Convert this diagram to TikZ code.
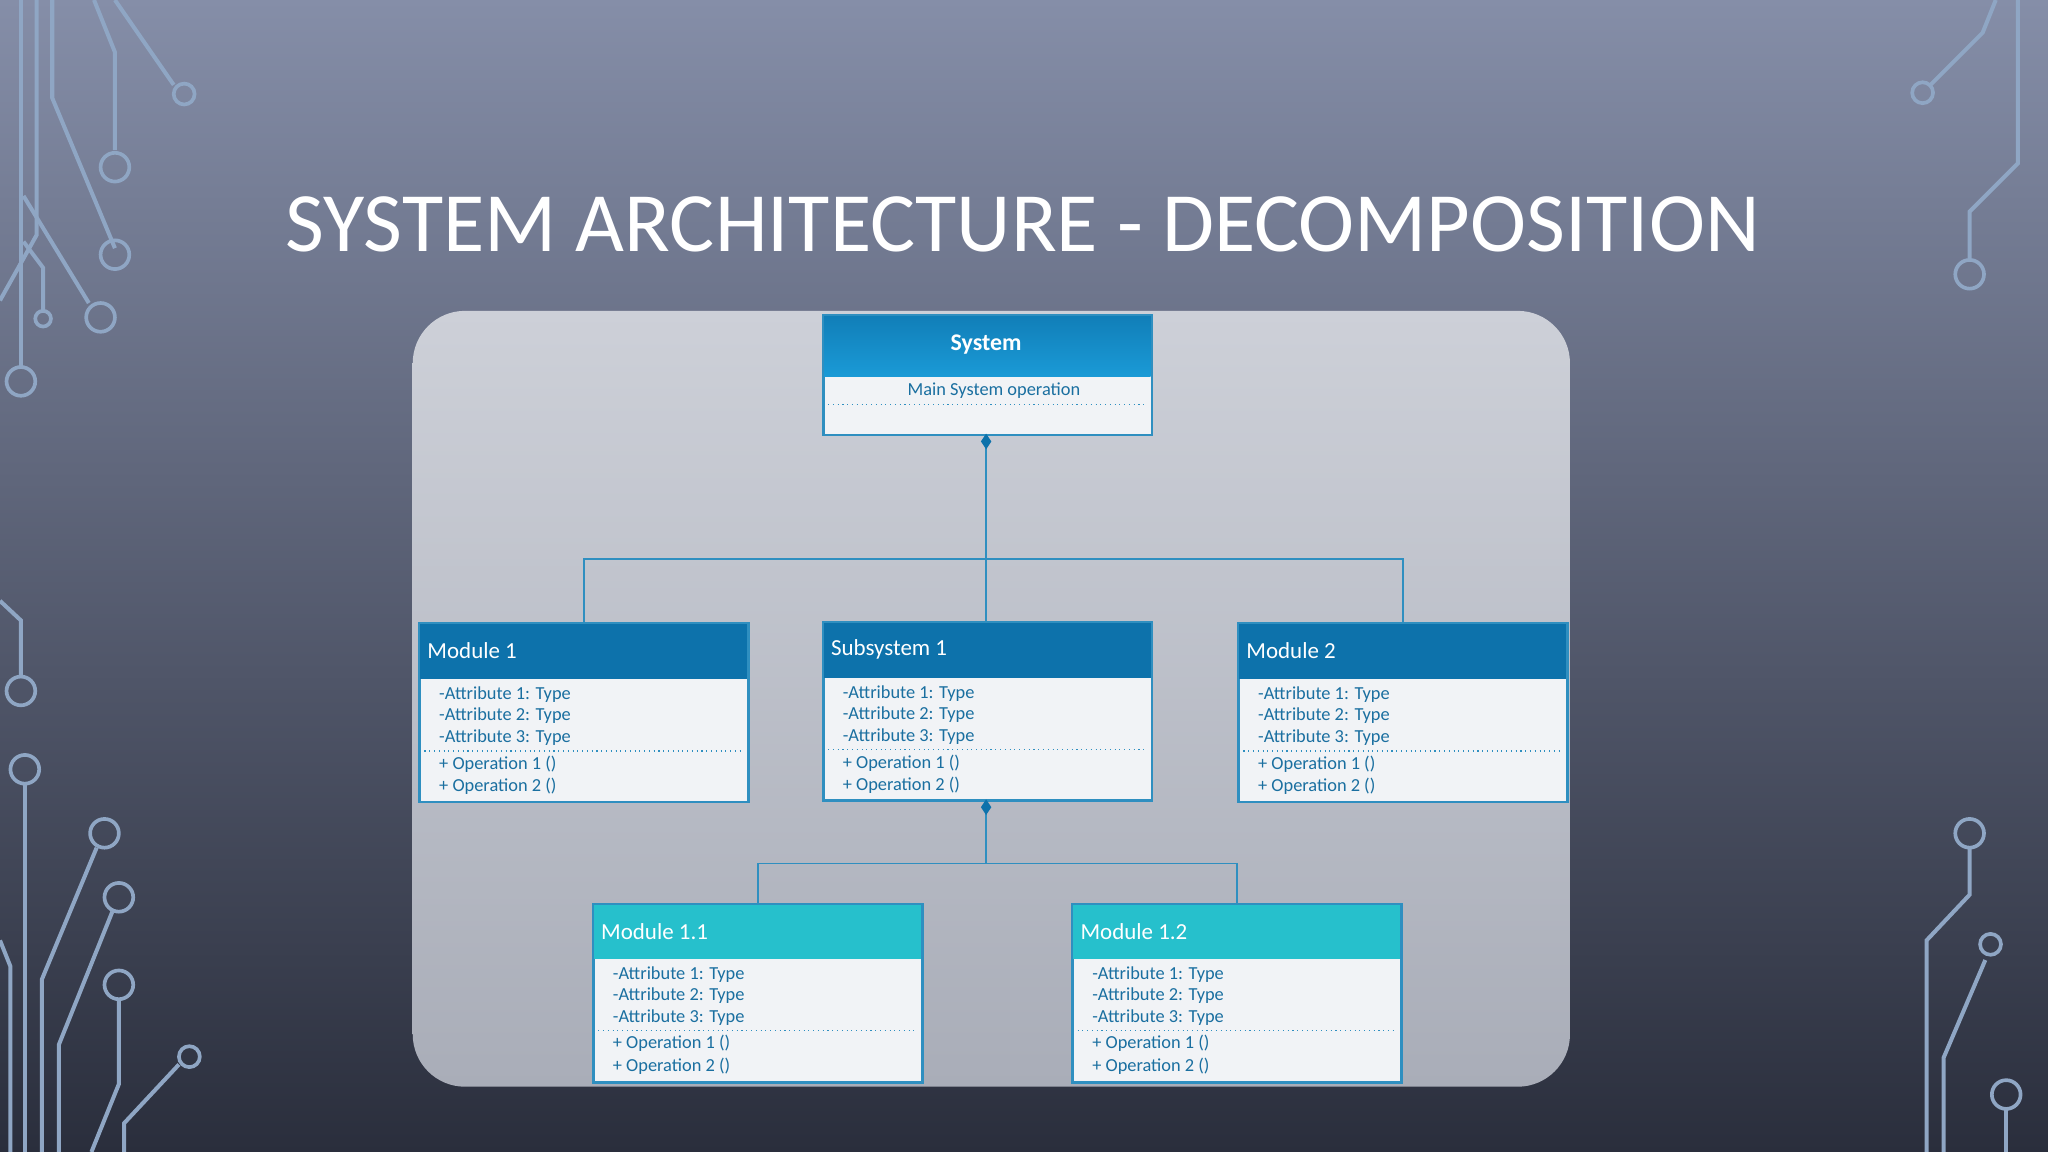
\documentclass[tikz,border=0pt]{standalone}
\usepackage{fontspec}
\setmainfont{Carlito}
\usetikzlibrary{calc}
\definecolor{bgtop}{HTML}{858EA8}
\definecolor{bgbot}{HTML}{2A2E3C}
\definecolor{circ}{HTML}{8FA6C4}
\definecolor{ptop}{HTML}{CDD0D8}
\definecolor{pbot}{HTML}{A9ADB8}
\definecolor{hblue}{HTML}{1A9AD6}
\definecolor{hdark}{HTML}{0D72AB}
\definecolor{hcyan}{HTML}{26C0CC}
\definecolor{lblue}{HTML}{2F8FC0}
\definecolor{ttext}{HTML}{1A6FA0}
\definecolor{bodyc}{HTML}{F1F3F6}
\tikzset{
 x=0.025cm,y=-0.025cm,
 umlbox/.style={draw=lblue,line width=1pt,fill=bodyc,minimum width=251*0.025cm,inner sep=0,anchor=north west},
 conn/.style={draw=lblue,line width=0.8pt},
 ctrace/.style={draw=circ,line width=2.2pt},
 cdot/.style={draw=circ,line width=2pt},
 attr/.style={anchor=west,font=\fontsize{10}{12}\selectfont,text=ttext,inner sep=0},
 htext/.style={anchor=west,font=\fontsize{12.5}{14}\selectfont,text=white,inner sep=0},
}
\newcommand{\umlcls}[7]{% name x y width hdrheight color title
 \node[umlbox,minimum height=136*0.025cm] (#1) at (#2,#3) {};
 \fill[#6] (#2,#3) rectangle ++(251,#5);
 \draw[lblue,line width=1pt] (#1.north west) rectangle (#1.south east);
 \node[htext] (#1t) at (#2+6,#3+#5/2) {#7};
 \node[attr] (#1a1) at (#2+15,#3+#5+12) {-Attribute 1: Type};
 \node[attr] (#1a2) at (#2+15,#3+#5+28) {-Attribute 2: Type};
 \node[attr] (#1a3) at (#2+15,#3+#5+45) {-Attribute 3: Type};
 \draw[lblue,dotted,line width=0.6pt] (#2+4,#3+#5+55) -- (#2+247,#3+#5+55);
 \node[attr] (#1o1) at (#2+15,#3+#5+65) {+ Operation 1 ()};
 \node[attr] (#1o2) at (#2+15,#3+#5+82) {+ Operation 2 ()};
}
\begin{document}
\begin{tikzpicture}
\shade[top color=bgtop,bottom color=bgbot] (0,0) rectangle (1568,882);
\useasboundingbox (0,0) rectangle (1568,882);
% circuit traces left
\draw[ctrace] (16,0) -- (16,280);
\draw[ctrace] (28,0) -- (28,180) -- (0,230);
\draw[ctrace] (40,0) -- (40,75) -- (88,190);
\draw[ctrace] (72,0) -- (88,40) -- (88,115);
\draw[ctrace] (88,0) -- (133,65);
\draw[ctrace] (18,150) -- (68,232);
\draw[ctrace] (18,185) -- (33,205) -- (33,238);
\draw[cdot] (141,72) circle (8) (88,128) circle (11) (88,195) circle (11) (77,243) circle (11) (33,244) circle (6) (16,292) circle (11);
\draw[ctrace] (0,460) -- (16,475) -- (16,517);
\draw[cdot] (16,529) circle (11) (19,589) circle (11);
\draw[ctrace] (19,600) -- (19,882);
\draw[ctrace] (0,720) -- (8,740) -- (8,882);
\draw[ctrace] (74,649) -- (32,750) -- (32,882);
\draw[ctrace] (86,698) -- (45,800) -- (45,882);
\draw[ctrace] (91,765) -- (91,830) -- (70,882);
\draw[ctrace] (137,815) -- (95,860) -- (95,882);
\draw[cdot] (80,638) circle (11) (91,687) circle (11) (91,754) circle (11) (145,809) circle (8);
% right
\draw[ctrace] (1528,0) -- (1518,25) -- (1478,65);
\draw[ctrace] (1545,0) -- (1545,125) -- (1508,162) -- (1508,198);
\draw[cdot] (1472,71) circle (8) (1508,210) circle (11);
\draw[ctrace] (1508,650) -- (1508,685) -- (1475,720) -- (1475,882);
\draw[ctrace] (1520,735) -- (1488,810) -- (1488,882);
\draw[ctrace] (1536,850) -- (1536,882);
\draw[cdot] (1508,638) circle (11) (1524,723) circle (8) (1536,838) circle (11);
% title
\node[text=white,font=\fontsize{46}{50}\selectfont,inner sep=0] (title) at (783,172) {SYSTEM ARCHITECTURE - DECOMPOSITION};
% panel
\shade[top color=ptop,bottom color=pbot,rounded corners=40*0.025cm] (316,238) rectangle (1202,832);
% System box
\node[umlbox,minimum height=91*0.025cm] (sys) at (630,241) {};
\shade[top color=hdark!70!hblue,bottom color=hblue] (630,241) rectangle (881,288);
\draw[lblue,line width=1pt] (sys.north west) rectangle (sys.south east);
\node[text=white,font=\bfseries\fontsize{13}{15}\selectfont] (syst) at (755,264) {System};
\node[attr,anchor=center] (sysop) at (761,299) {Main System operation};
\draw[lblue,dotted,line width=0.6pt] (634,310) -- (877,310);
\umlcls{m1}{321}{477}{251}{43}{hdark}{Module 1}
\umlcls{sub}{630}{476}{251}{43}{hdark}{Subsystem 1}
\umlcls{m2}{948}{477}{251}{43}{hdark}{Module 2}
\umlcls{m11}{454}{692}{251}{42}{hcyan}{Module 1.1}
\umlcls{m12}{821}{692}{251}{42}{hcyan}{Module 1.2}
% connectors
\coordinate (j1) at (755,428);
\coordinate (j2) at (755,661);
\coordinate (s1) at (755,336);
\coordinate (s2) at (755,616);
\draw[conn] (s1) -- (j1) -- (j1 |- sub.north);
\draw[conn] (j1) -| (m1.north);
\draw[conn] (j1) -| (m2.north);
\fill[hdark] (755,332) -- (759,338) -- (755,344) -- (751,338) -- cycle;
\draw[conn] (s2) -- (j2);
\draw[conn] (j2) -| (m11.north);
\draw[conn] (j2) -| (m12.north);
\fill[hdark] (755,612) -- (759,618) -- (755,624) -- (751,618) -- cycle;
\end{tikzpicture}
\end{document}
